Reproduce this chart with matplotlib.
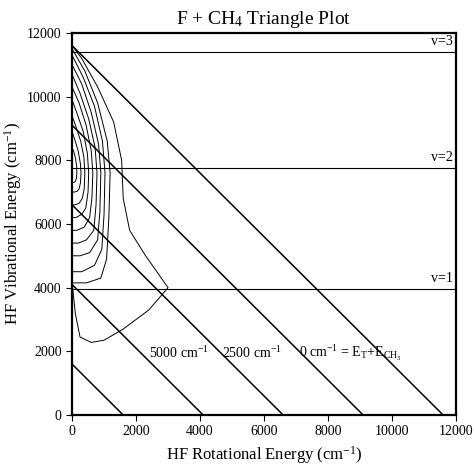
import numpy as np
import matplotlib.pyplot as plt

plt.rcParams['font.family'] = ['Liberation Serif', 'DejaVu Serif']
plt.rcParams['mathtext.fontset'] = 'custom'
plt.rcParams['mathtext.rm'] = 'Liberation Serif'
plt.rcParams['mathtext.it'] = 'Liberation Serif:italic'

# energy lines E_rot + E_vib = const (cm-1)
diag_levels = [1600, 4100, 6600, 9100, 11600]
# HF vibrational levels
v_levels = [3950, 7750, 11400]
v_labels = ['v=1', 'v=2', 'v=3']

# contour curves (x = rotational, y = vibrational)
outer_x = [0, 300, 800, 1300, 1550, 1600, 1800, 2300, 3000, 2400, 1600, 1000, 600, 250, 100, 0]
outer_y = [11600, 11200, 10300, 9200, 8000, 6800, 5800, 5000, 4000, 3300, 2700, 2350, 2280, 2450, 3200, 4200]

inner_contours = [
    ([0, 400, 800, 1100, 1190, 1150, 1080, 900, 450, 0], [11500, 10800, 9800, 8600, 7600, 6200, 4900, 4300, 4150, 4150]),
    ([0, 350, 700, 950, 1030, 1000, 930, 700, 300, 0], [11300, 10600, 9700, 8600, 7600, 6300, 5200, 4700, 4500, 4500]),
    ([0, 300, 600, 830, 900, 870, 800, 550, 250, 0], [11000, 10400, 9500, 8500, 7600, 6400, 5500, 5100, 5000, 5000]),
    ([0, 250, 520, 720, 780, 750, 680, 450, 200, 0], [10700, 10100, 9300, 8400, 7600, 6600, 5800, 5500, 5400, 5400]),
    ([0, 220, 440, 600, 650, 620, 550, 380, 150, 0], [10300, 9800, 9100, 8300, 7600, 6800, 6200, 5900, 5800, 5800]),
    ([0, 180, 350, 480, 520, 500, 430, 300, 120, 0], [9900, 9400, 8900, 8200, 7600, 7000, 6500, 6300, 6200, 6200]),
    ([0, 140, 270, 370, 400, 380, 320, 220, 90, 0], [9400, 9000, 8600, 8100, 7600, 7100, 6800, 6650, 6600, 6600]),
    ([0, 100, 190, 260, 280, 265, 220, 150, 60, 0], [8900, 8600, 8300, 7900, 7600, 7300, 7100, 7020, 7000, 7000]),
    ([0, 60, 110, 145, 150, 140, 110, 70, 30, 0], [8400, 8250, 8050, 7800, 7600, 7450, 7350, 7310, 7300, 7300]),
]

fig = plt.figure(figsize=(4.74, 4.69), dpi=100)
ax = fig.add_axes([0.152, 0.115, 0.81, 0.815])

xx = np.array([0, 12000])
for c in diag_levels:
    ax.plot(xx, c - xx, color='black', lw=1.1)
for v, lab in zip(v_levels, v_labels):
    ax.axhline(v, color='black', lw=0.8)
    ax.text(11900, v + 120, lab, ha='right', va='bottom', fontsize=10)

ax.plot(outer_x, outer_y, color='black', lw=0.7)
for cx, cy in inner_contours:
    ax.plot(cx, cy, color='black', lw=0.7)

ax.text(2400, 1950, '5000 cm$^{-1}$', fontsize=10, va='center')
ax.text(4700, 1950, '2500 cm$^{-1}$', fontsize=10, va='center')
ax.text(7100, 1950, '0 cm$^{-1}$ = E$_\\mathrm{T}$+E$_\\mathrm{CH_3}$', fontsize=10, va='center')

ax.set_xlim(0, 12000)
ax.set_ylim(0, 12000)
ax.set_xticks(np.arange(0, 12001, 2000))
ax.set_yticks(np.arange(0, 12001, 2000))
ax.tick_params(labelsize=10, direction='out', length=4)
for s in ax.spines.values():
    s.set_linewidth(1.6)

ax.set_xlabel('HF Rotational Energy (cm$^{-1}$)', fontsize=12)
ax.set_ylabel('HF Vibrational Energy (cm$^{-1}$)', fontsize=12, labelpad=2)
ax.set_title('F + CH$_4$ Triangle Plot', fontsize=14)

fig.savefig('out.png', dpi=100)
